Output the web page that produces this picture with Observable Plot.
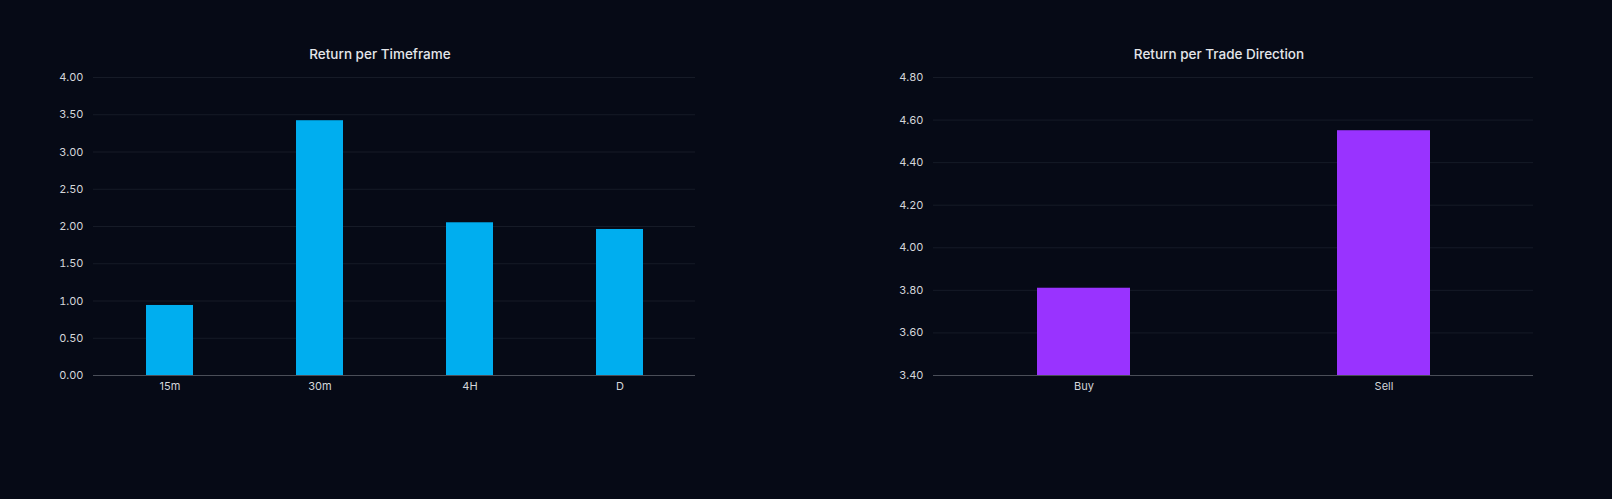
<!DOCTYPE html>
<html>
<head>
<meta charset="utf-8">
<script src="https://cdn.jsdelivr.net/npm/d3@7"></script>
<script src="https://cdn.jsdelivr.net/npm/@observablehq/plot@0.6"></script>
<style>
  html, body { margin: 0; padding: 0; background: #060a16; }
  body { width: 1612px; height: 499px; position: relative; overflow: hidden; font-family: Inter, "Noto Sans", sans-serif; }
  .panel { position: absolute; top: 0; width: 806px; }
  .title { position: absolute; top: 44px; height: 20px; line-height: 20px; text-align: center;
           color: #e4e6ea; font-size: 13.5px; font-weight: 500; }
  .chart { position: absolute; top: 64px; left: 0; }
</style>
</head>
<body>
<div class="panel" id="left"><div class="title" style="width:760px">Return per Timeframe</div><div class="chart"></div></div>
<div class="panel" id="right" style="left:806px"><div class="title" style="width:826px">Return per Trade Direction</div><div class="chart"></div></div>
<script>
// Return per timeframe
const timeframes = ["15m", "30m", "4H", "D"];
const timeframeReturns = [0.94, 3.42, 2.05, 1.96];
const timeframeTicks = [0, 0.5, 1, 1.5, 2, 2.5, 3, 3.5, 4];

// Return per trade direction
const directions = ["Buy", "Sell"];
const directionReturns = [3.81, 4.55];
const directionTicks = [3.4, 3.6, 3.8, 4.0, 4.2, 4.4, 4.6, 4.8];

const gridColor = "#161b27";
const axisColor = "#4a4e58";
const labelColor = "#d4d6da";

function barChart({categories, values, ticks, fill, marginLeft, marginRight}) {
  const data = categories.map((c, i) => ({category: c, value: values[i]}));
  const lo = ticks[0], hi = ticks[ticks.length - 1];
  return Plot.plot({
    width: 806,
    height: 341,
    marginTop: 13,
    marginBottom: 30,
    marginLeft,
    marginRight,
    style: {background: "transparent", color: labelColor, fontSize: "11px", fontFamily: "Inter, 'Noto Sans', sans-serif"},
    x: {domain: categories, paddingInner: 0.69, paddingOuter: 0.345, label: null},
    y: {domain: [lo, hi], label: null},
    marks: [
      Plot.gridY(ticks, {stroke: gridColor, strokeOpacity: 1}),
      Plot.barY(data, {x: "category", y: "value", fill, clip: true}),
      Plot.ruleY([lo], {stroke: axisColor}),
      Plot.axisY(ticks, {tickSize: 0, tickPadding: 10, tickFormat: d3.format(".2f"), fill: labelColor}),
      Plot.axisX({tickSize: 0, tickPadding: 7, fill: labelColor})
    ]
  });
}

document.querySelector("#left .chart").append(barChart({
  categories: timeframes, values: timeframeReturns, ticks: timeframeTicks,
  fill: "#00aeef", marginLeft: 93, marginRight: 111
}));

document.querySelector("#right .chart").append(barChart({
  categories: directions, values: directionReturns, ticks: directionTicks,
  fill: "#9933ff", marginLeft: 127, marginRight: 79
}));
</script>
</body>
</html>
